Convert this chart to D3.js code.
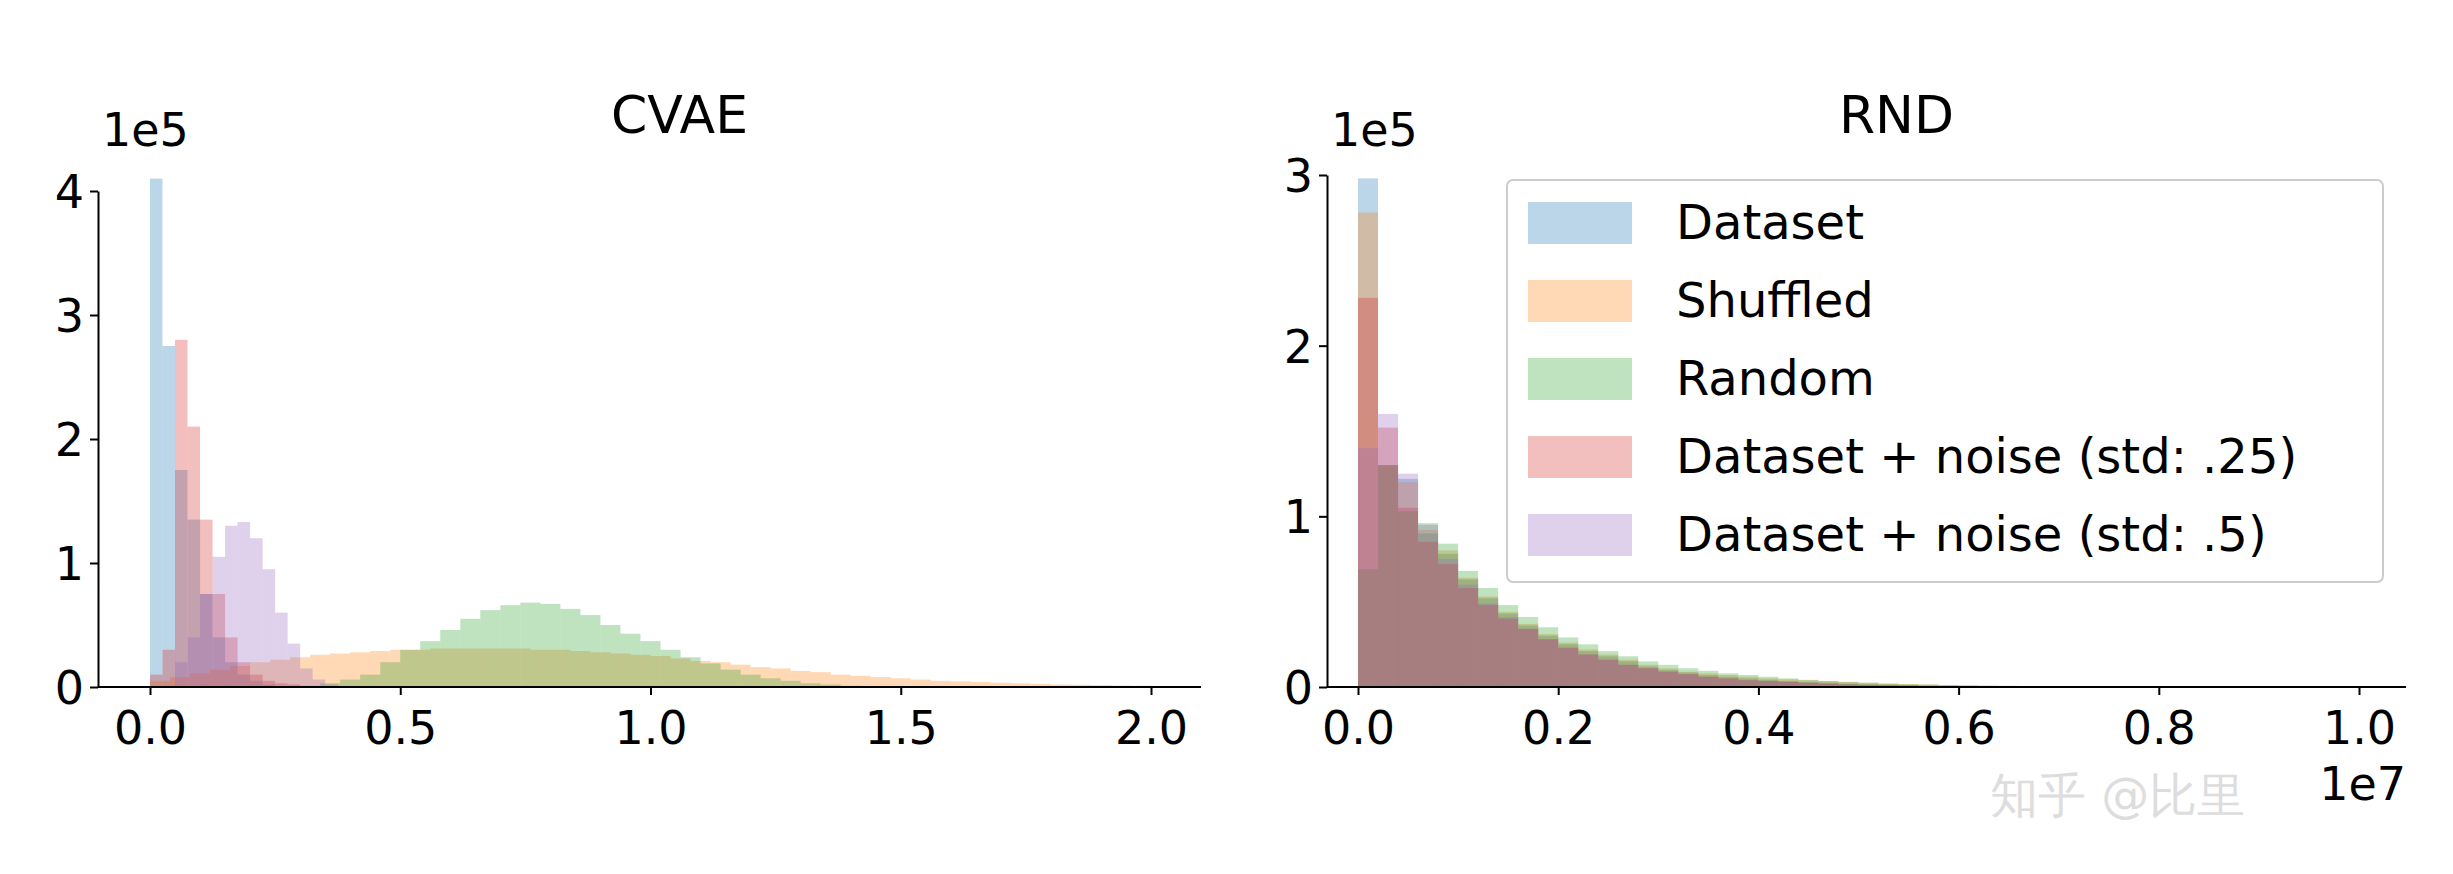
<!DOCTYPE html>
<html><head><meta charset="utf-8">
<script src="https://cdn.jsdelivr.net/npm/d3@7"></script>
<style>body{margin:0;background:#fff}text{font-family:"DejaVu Sans",sans-serif}</style>
</head><body>
<svg id="c" width="2453" height="874"></svg>
<script>
const seriesNames=["Dataset","Shuffled","Random","Dataset + noise (std: .25)","Dataset + noise (std: .5)"];
const colors=["#1f77b4","#ff7f0e","#2ca02c","#d62728","#9467bd"];
// CVAE (x units, counts in 1e5)
const cvaeStart=[0,0,0.3,0,0.05];
const cvaeWidth=[0.025,0.04,0.04,0.025,0.025];
const cvaeDataset=[4.1,2.75,1.75,1.35,0.75,0.4,0.2,0.1,0.05,0.02];
const cvaeShuffled=[0.05,0.08,0.11,0.14,0.17,0.2,0.22,0.24,0.26,0.27,0.28,0.29,0.3,0.3,0.31,0.31,0.31,0.31,0.31,0.3,0.3,0.29,0.28,0.27,0.26,0.25,0.23,0.21,0.2,0.18,0.16,0.15,0.13,0.12,0.1,0.09,0.08,0.07,0.06,0.05,0.045,0.04,0.035,0.03,0.025,0.02,0.018,0.015,0.012,0.01];
const cvaeRandom=[0.01,0.03,0.06,0.1,0.2,0.3,0.37,0.46,0.55,0.62,0.66,0.68,0.67,0.63,0.58,0.5,0.43,0.37,0.3,0.24,0.19,0.14,0.1,0.07,0.05,0.03,0.02,0.01];
const cvaeNoise25=[0.1,0.3,2.8,2.1,1.35,0.75,0.4,0.2,0.1,0.05,0.03,0.02];
const cvaeNoise5=[0.2,0.4,0.75,1.05,1.3,1.33,1.2,0.95,0.6,0.35,0.15,0.06,0.02];
// RND (x in 1e7, counts in 1e5)
const rndWidth=0.02;
const rndDataset=[2.98,1.30,1.22,0.90,0.78,0.63,0.52,0.43,0.36,0.30,0.25,0.21,0.18,0.15,0.12,0.10,0.085,0.07,0.06,0.05,0.042,0.035,0.03,0.025,0.02,0.016,0.013,0.01,0.008,0.006,0.005,0.004,0.003,0.002,0.002,0.001];
const rndShuffled=[2.78,1.30,1.20,0.92,0.80,0.64,0.53,0.44,0.37,0.31,0.26,0.22,0.19,0.16,0.13,0.11,0.09,0.08,0.07,0.06,0.05,0.045,0.04,0.035,0.03,0.025,0.02,0.018,0.015,0.012,0.01,0.008,0.007,0.006,0.005,0.004,0.003,0.003,0.002,0.002,0.001];
const rndRandom=[0.69,1.30,1.03,0.96,0.84,0.68,0.58,0.48,0.41,0.35,0.29,0.25,0.21,0.18,0.15,0.13,0.11,0.095,0.08,0.07,0.06,0.05,0.042,0.035,0.03,0.025,0.02,0.017,0.014,0.011,0.009,0.007,0.006,0.005,0.004,0.003,0.002];
const rndNoise25=[2.28,1.52,1.05,0.85,0.72,0.58,0.48,0.40,0.34,0.28,0.23,0.19,0.16,0.13,0.11,0.09,0.075,0.06,0.05,0.04,0.035,0.03,0.025,0.02,0.015,0.012,0.01,0.008,0.006,0.005,0.004,0.003,0.002];
const rndNoise5=[1.40,1.60,1.25,0.95,0.75,0.60,0.49,0.41,0.34,0.28,0.23,0.19,0.16,0.13,0.11,0.09,0.075,0.06,0.05,0.04,0.035,0.03,0.025,0.02,0.015,0.012,0.01,0.008,0.006,0.005,0.004];
const cvaeXTicks=[0,0.5,1.0,1.5,2.0], cvaeYTicks=[0,1,2,3,4];
const rndXTicks=[0,0.2,0.4,0.6,0.8,1.0], rndYTicks=[0,1,2,3];

const svg=d3.select("#c");
function panel(o){
  const x=d3.scaleLinear().domain(o.xd).range([o.x0,o.x1]);
  const y=d3.scaleLinear().domain(o.yd).range([o.y0,o.y1]);
  const g=svg.append("g");
  o.series.forEach((vals,i)=>{
    g.append("g").selectAll("rect").data(vals).join("rect")
      .attr("x",(d,j)=>x(o.start[i]+j*o.width[i]))
      .attr("width",(d,j)=>x(o.start[i]+(j+1)*o.width[i])-x(o.start[i]+j*o.width[i]))
      .attr("y",d=>y(d)).attr("height",d=>y(0)-y(d))
      .attr("fill",colors[i]).attr("fill-opacity",0.3);
  });
  const xa=svg.append("g").attr("transform",`translate(0,${o.y0})`)
    .call(d3.axisBottom(x).tickValues(o.xt).tickFormat(d3.format(".1f")).tickSize(8).tickSizeOuter(0));
  const ya=svg.append("g").attr("transform",`translate(${o.ax},0)`)
    .call(d3.axisLeft(y).tickValues(o.yt).tickFormat(d3.format("d")).tickSize(8).tickSizeOuter(0));
  xa.select(".domain").attr("d",`M${o.ax},0H${o.xend}`);
  [xa,ya].forEach(a=>{a.selectAll("text").attr("font-size",46).attr("fill","#000").style("font-family","DejaVu Sans");
    a.selectAll("line,path").attr("stroke","#000").attr("stroke-width",2);});
  xa.selectAll("text").attr("dy","1.0em");
  ya.selectAll("text").attr("dy","0.36em").attr("x",-14);
  svg.append("text").attr("x",o.ax+4).attr("y",146).attr("font-size",46).text("1e5");
  svg.append("text").attr("x",(o.ax+o.xend)/2+30).attr("y",133).attr("font-size",52).attr("text-anchor","middle").text(o.title);
}
panel({title:"CVAE",xd:[0,2],yd:[0,4],x0:150,x1:1151,y0:687,y1:191,ax:98,xend:1201,
  series:[cvaeDataset,cvaeShuffled,cvaeRandom,cvaeNoise25,cvaeNoise5],start:cvaeStart,width:cvaeWidth,xt:cvaeXTicks,yt:cvaeYTicks});
panel({title:"RND",xd:[0,1],yd:[0,3],x0:1358,x1:2359,y0:687,y1:175,ax:1327,xend:2406,
  series:[rndDataset,rndShuffled,rndRandom,rndNoise25,rndNoise5],start:[0,0,0,0,0],width:[rndWidth,rndWidth,rndWidth,rndWidth,rndWidth],xt:rndXTicks,yt:rndYTicks});
svg.append("text").attr("x",2406).attr("y",800).attr("font-size",46).attr("text-anchor","end").text("1e7");
// legend
const lg=svg.append("g");
lg.append("rect").attr("x",1507).attr("y",180).attr("width",876).attr("height",402).attr("rx",6)
  .attr("fill","#fff").attr("fill-opacity",0.8).attr("stroke","#ccc").attr("stroke-width",2);
seriesNames.forEach((n,i)=>{
  const cy=222+i*78;
  lg.append("rect").attr("x",1528).attr("y",cy-20).attr("width",104).attr("height",42).attr("fill",colors[i]).attr("fill-opacity",0.3);
  lg.append("text").attr("x",1676).attr("y",cy+17).attr("font-size",48).text(n);
});
svg.append("text").attr("x",1990).attr("y",812).attr("font-size",48).attr("fill","#ddd").attr("font-family","Noto Sans CJK SC").text("知乎 @比里");
</script></body></html>
